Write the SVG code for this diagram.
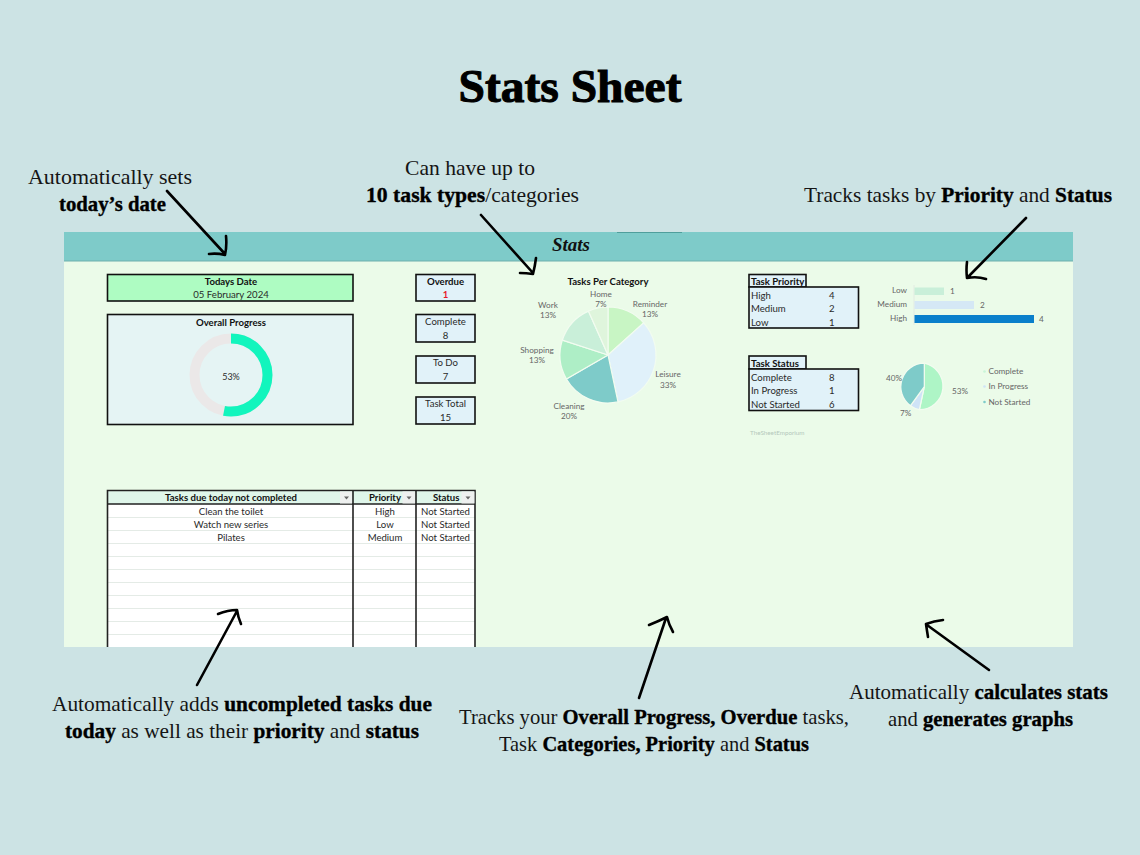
<svg xmlns="http://www.w3.org/2000/svg" width="1140" height="855" viewBox="0 0 1140 855">
<style>
.a{font-family:"Liberation Serif","Times New Roman",serif;font-size:21px;fill:#151515}
.a tspan.b{font-weight:700;fill:#000;stroke:#000;stroke-width:0.35px}
.x{font-family:Lato,"Noto Sans",sans-serif;font-size:9.6px;fill:#2a2a2a}
.xb{font-family:Lato,"Noto Sans",sans-serif;font-size:9.6px;font-weight:700;fill:#111}
.g{font-family:Lato,"Noto Sans",sans-serif;font-size:8.2px;fill:#666}
.m{text-anchor:middle}
.box{stroke:#111;stroke-width:1.6}
.row{stroke:#e4ebe6;stroke-width:1;fill:none}
.col{stroke:#222;stroke-width:1.6;fill:none}
.slice{stroke:#f2fcf0;stroke-width:1.2}
.arrow{fill:none;stroke:#000;stroke-width:2.6;stroke-linecap:round;stroke-linejoin:round}
</style>
<rect width="1140" height="855" fill="#cce3e4"/>
<text x="570" y="102" text-anchor="middle" textLength="223" lengthAdjust="spacingAndGlyphs" font-family="'Liberation Serif',serif" font-weight="700" font-size="46" fill="#000" stroke="#000" stroke-width="1">Stats Sheet</text>

<g id="sheet">
<rect x="64" y="232" width="1009" height="415" fill="#ebfbe9"/>
<rect x="64" y="232" width="1009" height="29" fill="#7ecbc9"/>
<rect x="64" y="260.500" width="1009" height="1" fill="#6fb0ae"/>
<rect x="617" y="232" width="65" height="1" fill="#4f9f9c"/>
<text x="571" y="251" text-anchor="middle" textLength="38" lengthAdjust="spacingAndGlyphs" font-family="'Liberation Serif',serif" font-style="italic" font-weight="700" font-size="18" fill="#111">Stats</text>
</g>

<g id="todays-date">
<rect class="box" x="107.500" y="274.500" width="245.500" height="26.500" fill="#aefcc2"/>
<text class="xb m" x="231" y="284.500">Todays Date</text>
<text class="x m" x="231" y="298">05 February 2024</text>
</g>

<g id="overall-progress">
<rect class="box" x="107.500" y="314.500" width="245.500" height="110" fill="#e5f4f4"/>
<text class="xb m" x="231" y="326">Overall Progress</text>
<circle cx="231" cy="375" r="36.500" fill="none" stroke="#ebe8e8" stroke-width="10"/>
<circle cx="231" cy="375" r="36.500" fill="none" stroke="#12f5bd" stroke-width="10" stroke-dasharray="121.500 229.300" transform="rotate(-90 231 375)"/>
<text class="x m" x="231" y="380" style="font-size:9px">53%</text>
</g>

<g id="overdue">
<rect class="box" x="416" y="274.500" width="59" height="26.500" fill="#e1f2f9"/>
<text class="xb m" x="445.500" y="284.500">Overdue</text>
<text class="xb m" x="445.500" y="298" style="fill:#e8182a">1</text>
</g>
<g id="complete">
<rect class="box" x="416" y="314.500" width="59" height="27.500" fill="#e1f2f9"/>
<text class="x m" x="445.500" y="325">Complete</text>
<text class="x m" x="445.500" y="339">8</text>
</g>
<g id="to-do">
<rect class="box" x="416" y="356" width="59" height="27" fill="#e1f2f9"/>
<text class="x m" x="445.500" y="366">To Do</text>
<text class="x m" x="445.500" y="380">7</text>
</g>
<g id="task-total">
<rect class="box" x="416" y="397" width="59" height="27" fill="#e1f2f9"/>
<text class="x m" x="445.500" y="407">Task Total</text>
<text class="x m" x="445.500" y="421">15</text>
</g>

<g id="tasks-per-category">
<text class="xb m" x="608" y="284.500">Tasks Per Category</text>
<path class="slice" fill="#c8f5c4" d="M608 355V307A48 48 0 0 1 643.670 322.880Z"/>
<path class="slice" fill="#e0f1fa" d="M608 355L643.670 322.880A48 48 0 0 1 617.980 401.950Z"/>
<path class="slice" fill="#7ecbc9" d="M608 355L617.980 401.950A48 48 0 0 1 566.430 379Z"/>
<path class="slice" fill="#aeeec6" d="M608 355L566.430 379A48 48 0 0 1 562.350 340.170Z"/>
<path class="slice" fill="#c9efd9" d="M608 355L562.350 340.170A48 48 0 0 1 588.480 311.150Z"/>
<path class="slice" fill="#dff5dc" d="M608 355L588.480 311.150A48 48 0 0 1 608 307Z"/>
<text class="g m" x="601" y="296.500">Home</text><text class="g m" x="601" y="306.500">7%</text>
<text class="g m" x="650" y="307">Reminder</text><text class="g m" x="650" y="317">13%</text>
<text class="g m" x="668" y="377">Leisure</text><text class="g m" x="668" y="387.500">33%</text>
<text class="g m" x="569" y="409">Cleaning</text><text class="g m" x="569" y="419">20%</text>
<text class="g m" x="537" y="353">Shopping</text><text class="g m" x="537" y="363">13%</text>
<text class="g m" x="548" y="308">Work</text><text class="g m" x="548" y="318">13%</text>
</g>

<g id="task-priority">
<rect class="box" x="749" y="274.500" width="57" height="12.500" fill="#e1f2f9"/>
<rect class="box" x="749" y="287" width="109.500" height="41" fill="#e1f2f9"/>
<text class="xb" x="751" y="284.500">Task Priority</text>
<text class="x" x="751" y="298.500">High</text><text class="x" x="829" y="298.500">4</text>
<text class="x" x="751" y="312">Medium</text><text class="x" x="829" y="312">2</text>
<text class="x" x="751" y="325.500">Low</text><text class="x" x="829" y="325.500">1</text>
</g>

<g id="priority-chart">
<line x1="914" y1="285" x2="914" y2="325" stroke="#dfe8e0" stroke-width="0.800"/>
<rect x="914.500" y="287.500" width="29.500" height="7.500" fill="#c9efd9"/>
<rect x="914.500" y="301" width="59.500" height="8" fill="#d5e8f5"/>
<rect x="914.500" y="315" width="119.500" height="8" fill="#0a7fcb"/>
<text class="g" x="907" y="293" text-anchor="end">Low</text>
<text class="g" x="907" y="307" text-anchor="end">Medium</text>
<text class="g" x="907" y="321" text-anchor="end">High</text>
<text class="g" x="950" y="294">1</text>
<text class="g" x="980" y="308">2</text>
<text class="g" x="1039" y="322">4</text>
</g>

<g id="task-status">
<rect class="box" x="749" y="356" width="57" height="13" fill="#e1f2f9"/>
<rect class="box" x="749" y="369" width="109.500" height="41.500" fill="#e1f2f9"/>
<text class="xb" x="751" y="366.500">Task Status</text>
<text class="x" x="751" y="380.500">Complete</text><text class="x" x="829" y="380.500">8</text>
<text class="x" x="751" y="394">In Progress</text><text class="x" x="829" y="394">1</text>
<text class="x" x="751" y="407.500">Not Started</text><text class="x" x="829" y="407.500">6</text>
</g>

<g id="status-chart">
<path class="slice" fill="#aef5c6" d="M924.300 386.700V363.200A23.500 23.500 0 0 1 919.400 409.700Z"/>
<path class="slice" fill="#cfe3f7" d="M924.300 386.700L919.400 409.700A23.500 23.500 0 0 1 910.500 405.700Z"/>
<path class="slice" fill="#7ecbc9" d="M924.300 386.700L910.500 405.700A23.500 23.500 0 0 1 924.300 363.200Z"/>
<text class="g" x="886" y="381">40%</text>
<text class="g" x="952" y="394">53%</text>
<text class="g" x="900" y="416">7%</text>
<circle cx="984.500" cy="371.500" r="1.300" fill="#c9f5d8"/>
<circle cx="984.500" cy="386.500" r="1.300" fill="#cfe3f7"/>
<circle cx="984.500" cy="402" r="1.300" fill="#7ecbc9"/>
<text class="g" x="988.500" y="374">Complete</text>
<text class="g" x="988.500" y="389">In Progress</text>
<text class="g" x="988.500" y="405">Not Started</text>
</g>

<text x="750" y="435" font-family="Lato,'Noto Sans',sans-serif" font-size="6.300" fill="#b4c8bc">TheSheetEmporium</text>

<g id="tasks-due-table">
<rect x="107.500" y="504" width="367.500" height="143" fill="#fff"/>
<rect x="107.500" y="490.500" width="367.500" height="13.500" fill="#dff6ea"/>
<path class="row" d="M108 517.500H475M108 530.500H475M108 543.500H475M108 556.500H475M108 569.500H475M108 582.500H475M108 595.500H475M108 608.500H475M108 621.500H475M108 634.500H475"/>
<path class="col" d="M107.500 647V490.500H475V647M353 490.500V647M416 490.500V647M107.500 504H475"/>
<rect x="340" y="491.500" width="12" height="12" fill="#eef0ef"/>
<rect x="402.500" y="491.500" width="12.500" height="12" fill="#eef0ef"/>
<rect x="461.500" y="491.500" width="13" height="12" fill="#eef0ef"/>
<path d="M344 496.500h5l-2.500 3Z M406.500 496.500h5l-2.500 3Z M465.500 496.500h5l-2.500 3Z" fill="#666"/>
<text class="xb m" x="231" y="500.500">Tasks due today not completed</text>
<text class="xb" x="401" y="500.500" text-anchor="end">Priority</text>
<text class="xb" x="459.500" y="500.500" text-anchor="end">Status</text>
<text class="x m" x="231" y="514.500">Clean the toilet</text><text class="x m" x="385" y="514.500">High</text><text class="x m" x="445.500" y="514.500">Not Started</text>
<text class="x m" x="231" y="527.500">Watch new series</text><text class="x m" x="385" y="527.500">Low</text><text class="x m" x="445.500" y="527.500">Not Started</text>
<text class="x m" x="231" y="540.500">Pilates</text><text class="x m" x="385" y="540.500">Medium</text><text class="x m" x="445.500" y="540.500">Not Started</text>
</g>

<g id="connectors">
<path class="arrow" d="M167 191L225 254M226 236Q227 246 225 255Q217 253 209 254"/>
<path class="arrow" d="M481 215L533 273M536 258Q535 266 533 274Q526 273 520 273"/>
<path class="arrow" d="M1026 218L968 277M967 262Q966 270 967 278Q977 276 986 279"/>
<path class="arrow" d="M197 685L237 611M218 614Q228 610 237 610Q238 617 241 624"/>
<path class="arrow" d="M639 698L666 618M649 625Q659 621 667 617Q669 625 673 632"/>
<path class="arrow" d="M989 670L927 625M943 620Q934 621 926 624Q927 631 928 637"/>
</g>

<g id="annotations">
<text class="a" x="28" y="184" textLength="164" lengthAdjust="spacingAndGlyphs">Automatically sets</text>
<text class="a" x="59" y="211" textLength="107" lengthAdjust="spacingAndGlyphs"><tspan class="b">today’s date</tspan></text>
<text class="a" x="405" y="175" textLength="130" lengthAdjust="spacingAndGlyphs">Can have up to</text>
<text class="a" x="366" y="202" textLength="213" lengthAdjust="spacingAndGlyphs"><tspan class="b">10 task types</tspan>/categories</text>
<text class="a" x="804" y="202" textLength="308" lengthAdjust="spacingAndGlyphs">Tracks tasks by <tspan class="b">Priority</tspan> and <tspan class="b">Status</tspan></text>
<text class="a" x="52" y="711" textLength="380" lengthAdjust="spacingAndGlyphs">Automatically adds <tspan class="b">uncompleted tasks due</tspan></text>
<text class="a" x="65" y="738" textLength="354" lengthAdjust="spacingAndGlyphs"><tspan class="b">today</tspan> as well as their <tspan class="b">priority</tspan> and <tspan class="b">status</tspan></text>
<text class="a" x="459" y="724" textLength="390" lengthAdjust="spacingAndGlyphs">Tracks your <tspan class="b">Overall Progress,</tspan> <tspan class="b">Overdue</tspan> tasks,</text>
<text class="a" x="499" y="751" textLength="310" lengthAdjust="spacingAndGlyphs">Task <tspan class="b">Categories,</tspan> <tspan class="b">Priority</tspan> and <tspan class="b">Status</tspan></text>
<text class="a" x="849" y="699" textLength="259" lengthAdjust="spacingAndGlyphs">Automatically <tspan class="b">calculates stats</tspan></text>
<text class="a" x="888" y="726" textLength="185" lengthAdjust="spacingAndGlyphs">and <tspan class="b">generates graphs</tspan></text>
</g>
</svg>
